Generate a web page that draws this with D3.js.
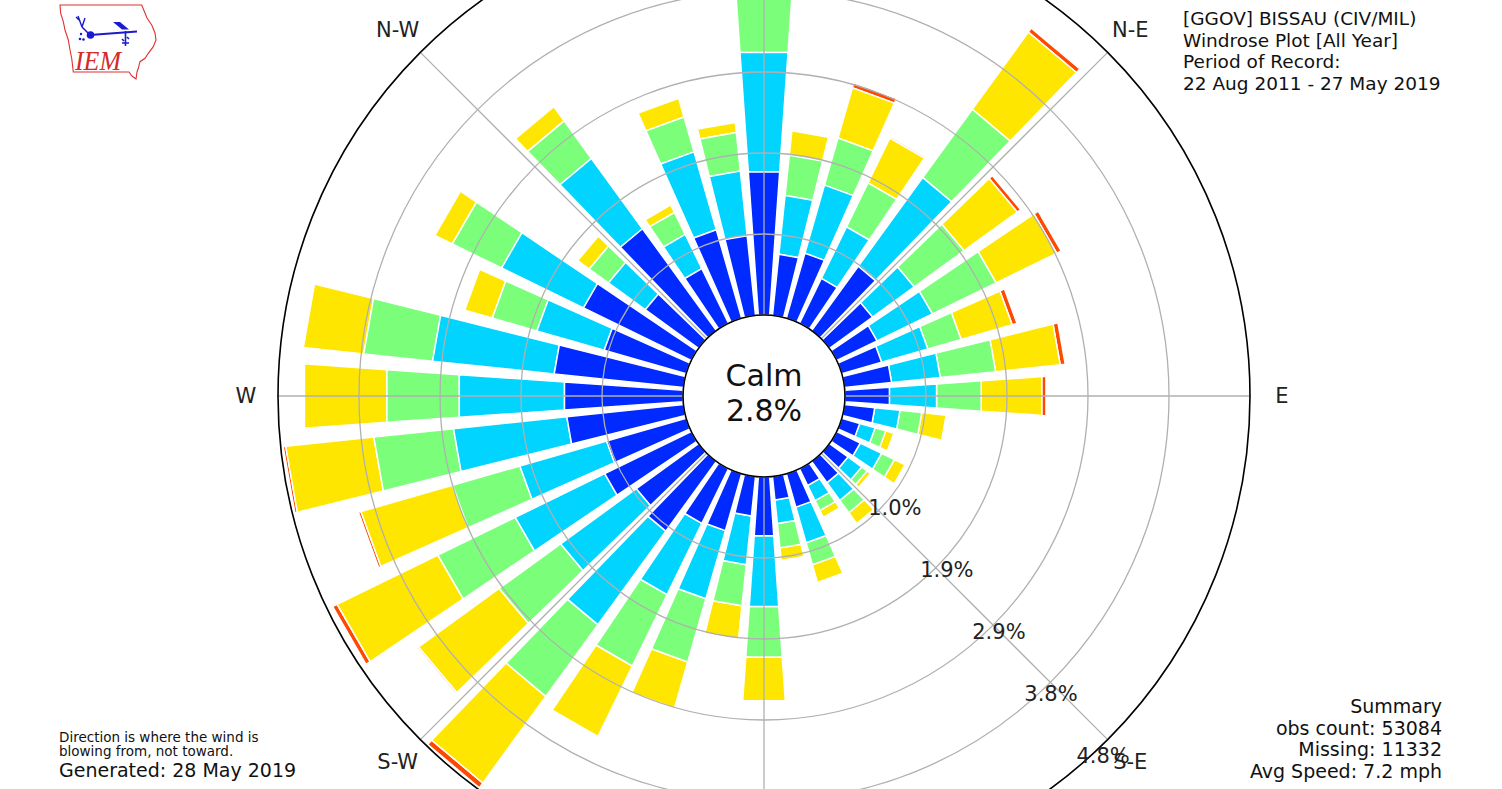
<!DOCTYPE html>
<html><head><meta charset="utf-8">
<script src="https://cdn.jsdelivr.net/npm/d3@7"></script>
<style>html,body{margin:0;padding:0;background:#fff;overflow:hidden}</style>
</head><body>
<svg id="chart" width="1502" height="789"></svg>
<script>
// ---------------- data ----------------
const directions = d3.range(0, 360, 10); // compass degrees, wind from
const binKeys = ["s1", "s2", "s3", "s4", "s5"];
const binColors = ["#002aff", "#00d4ff", "#7bff7b", "#ffe600", "#ff4800"];
// per-bin frequency (%) for each direction
const s1 = [1.70,0.73,0.80,0.59,0.94,0.63,0.53,0.49,0.56,0.53,0.36,0.22,0.31,0.27,0.31,0.22,0.41,0.28,
            0.70,0.47,0.70,0.72,1.02,0.91,1.14,0.98,1.39,1.41,1.54,1.01,1.42,0.78,1.49,0.72,1.09,0.95];
const s2 = [1.42,0.70,0.84,0.68,1.30,0.61,0.73,0.57,0.58,0.56,0.30,0.19,0.28,0.20,0.26,0.20,0.44,0.28,
            0.84,0.58,0.84,0.94,1.37,1.11,1.18,1.07,1.35,1.25,1.45,0.83,1.08,0.54,1.03,0.45,0.96,0.77];
const s3 = [0.98,0.48,0.58,0.58,1.00,0.73,0.84,0.41,0.66,0.53,0.26,0.13,0.17,0.08,0.18,0.13,0.27,0.29,
            0.60,0.49,0.78,0.94,1.05,0.90,1.02,0.83,0.95,0.86,0.82,0.55,0.65,0.28,0.55,0.29,0.43,0.46];
const s4 = [0.60,0.29,0.62,0.59,1.13,0.78,0.80,0.63,0.77,0.72,0.29,0.10,0.14,0.05,0.16,0.09,0.22,0.15,
            0.52,0.40,0.57,0.93,1.27,1.18,1.33,1.13,1.05,0.98,0.72,0.34,0.23,0.17,0.21,0.10,0.23,0.12];
const s5 = [0.07,0.00,0.06,0.02,0.06,0.05,0.06,0.06,0.06,0.05,0.00,0.00,0.00,0.00,0.00,0.00,0.00,0.00,
            0.00,0.00,0.00,0.00,0.07,0.02,0.06,0.03,0.03,0.00,0.00,0.00,0.00,0.00,0.00,0.00,0.00,0.00];
const calmText = ["Calm", "2.8%"];
const ringTicks = [0.96, 1.92, 2.88, 3.84, 4.80];
const ringLabels = ["1.0%", "1.9%", "2.9%", "3.8%", "4.8%"];
const gridAngles = [0, 45, 90, 135, 180, 225, 270, 315];
// compass labels visible in the frame (N and S fall outside the picture)
const compassAngles = [45, 90, 135, 225, 270, 315];
const compassLabels = ["N-E", "E", "S-E", "S-W", "W", "N-W"];
const titleLines = ["[GGOV] BISSAU (CIV/MIL)", "Windrose Plot [All Year]", "Period of Record:", "22 Aug 2011 - 27 May 2019"];
const summaryLines = ["Summary", "obs count: 53084", "Missing: 11332", "Avg Speed: 7.2 mph"];
const noteLines = ["Direction is where the wind is", "blowing from, not toward."];
const generatedText = "Generated: 28 May 2019";

// ---------------- layout ----------------
const svg = d3.select("#chart");
const FONT = "DejaVu Sans, Verdana, sans-serif";
const cx = 764, cy = 396;
const rMax = 4.8;
const r = d3.scaleLinear().domain([0, rMax]).range([81, 486]);
const rad = d => d * Math.PI / 180;
const pt = (deg, rr) => [cx + rr * Math.sin(rad(deg)), cy - rr * Math.cos(rad(deg))];
const opening = 8; // degrees

const rows = directions.map((d, i) => ({dir: d, s1: s1[i], s2: s2[i], s3: s3[i], s4: s4[i], s5: s5[i]}));
const series = d3.stack().keys(binKeys)(rows);

svg.append("defs").append("clipPath").attr("id", "polarClip")
  .append("circle").attr("cx", cx).attr("cy", cy).attr("r", r(rMax));

const barsG = svg.append("g").attr("clip-path", "url(#polarClip)");
// draw outermost bin first so inner bins lie on top
series.slice().reverse().forEach(s => {
  const ci = binKeys.indexOf(s.key);
  barsG.selectAll(null).data(s.filter(d => d[1] - d[0] > 0)).enter().append("path")
    .attr("d", d => {
      const a = d.data.dir;
      const r0 = r(d[0]), r1 = r(d[1]);
      const p = [pt(a - opening / 2, r0), pt(a + opening / 2, r0), pt(a + opening / 2, r1), pt(a - opening / 2, r1)];
      return "M" + p.map(q => q[0].toFixed(2) + "," + q[1].toFixed(2)).join("L") + "Z";
    })
    .attr("fill", binColors[ci])
    .attr("stroke", "#ffffff")
    .attr("stroke-width", 1.5)
    .attr("stroke-linejoin", "miter");
});

// grid
const gridG = svg.append("g");
gridG.selectAll(null).data(ringTicks.slice(0, -1)).enter().append("circle")
  .attr("cx", cx).attr("cy", cy).attr("r", d => r(d))
  .attr("fill", "none").attr("stroke", "#b0b0b0").attr("stroke-width", 1.3);
gridG.selectAll(null).data(gridAngles).enter().append("line")
  .attr("x1", d => pt(d, r(0))[0]).attr("y1", d => pt(d, r(0))[1])
  .attr("x2", d => pt(d, r(rMax))[0]).attr("y2", d => pt(d, r(rMax))[1])
  .attr("stroke", "#b0b0b0").attr("stroke-width", 1.3);
// outer spine
svg.append("circle").attr("cx", cx).attr("cy", cy).attr("r", r(rMax))
  .attr("fill", "none").attr("stroke", "#000").attr("stroke-width", 1.6);

// calm circle
svg.append("circle").attr("cx", cx).attr("cy", cy).attr("r", r(0))
  .attr("fill", "#fff").attr("stroke", "#000").attr("stroke-width", 1.6);
svg.selectAll(null).data(calmText).enter().append("text")
  .attr("x", cx).attr("y", (d, i) => 386 + i * 35)
  .attr("text-anchor", "middle").attr("font-family", FONT).attr("font-size", 30)
  .attr("fill", "#111").text(d => d);

// ring labels
svg.selectAll(null).data(ringTicks).enter().append("text")
  .attr("x", d => pt(140, r(d))[0]).attr("y", d => pt(140, r(d))[1] - 5)
  .attr("font-family", FONT).attr("font-size", 21).attr("fill", "#222")
  .text((d, i) => ringLabels[i]);

// compass labels
svg.selectAll(null).data(compassAngles).enter().append("text")
  .attr("x", d => pt(d, 518)[0]).attr("y", d => pt(d, 518)[1])
  .attr("text-anchor", "middle").attr("dominant-baseline", "central")
  .attr("font-family", FONT).attr("font-size", 21).attr("fill", "#222")
  .text((d, i) => compassLabels[i]);

// title block
svg.selectAll(null).data(titleLines).enter().append("text")
  .attr("x", 1183).attr("y", (d, i) => 25 + i * 21.7)
  .attr("font-family", FONT).attr("font-size", 18.5).attr("fill", "#111").text(d => d);
// summary block
svg.selectAll(null).data(summaryLines).enter().append("text")
  .attr("x", 1442).attr("y", (d, i) => 713 + i * 21.7).attr("text-anchor", "end")
  .attr("font-family", FONT).attr("font-size", 19).attr("fill", "#111").text(d => d);
// notes
svg.selectAll(null).data(noteLines).enter().append("text")
  .attr("x", 59).attr("y", (d, i) => 741.5 + i * 14.3)
  .attr("font-family", FONT).attr("font-size", 13.5).attr("fill", "#111").text(d => d);
svg.append("text").attr("x", 59).attr("y", 776.5)
  .attr("font-family", FONT).attr("font-size", 19).attr("fill", "#111").text(generatedText);

// IEM logo
const logo = svg.append("g");
const iowa = [[60,5],[141.7,5],[145,13],[147,18],[151.7,25],[155,33],[156,40],[153.3,46.7],[148.3,53.3],
  [145,58.3],[140,61.7],[138.3,68.3],[137,72],[136,79],[132,76],[129,72],[73.3,72],[71.7,58.3],[70,50],
  [68.3,40],[65,30],[63.3,21.7],[60.7,13.3]];
logo.append("path").attr("d", d3.line()(iowa) + "Z").attr("fill", "none")
  .attr("stroke", "#e03030").attr("stroke-width", 1.1);
const blue = "#1a1ad0";
logo.append("line").attr("x1", 90).attr("y1", 35).attr("x2", 137).attr("y2", 31.5).attr("stroke", blue).attr("stroke-width", 1.8);
logo.append("line").attr("x1", 90).attr("y1", 35).attr("x2", 82).attr("y2", 27).attr("stroke", blue).attr("stroke-width", 1.6);
logo.append("path").attr("d", "M82,27L78,16M82,27L85,18M79,20L76,17").attr("stroke", blue).attr("stroke-width", 1.4).attr("fill", "none");
logo.append("circle").attr("cx", 90.5).attr("cy", 35).attr("r", 3.8).attr("fill", blue);
logo.append("circle").attr("cx", 81).attr("cy", 34).attr("r", 1.2).attr("fill", blue);
logo.append("circle").attr("cx", 80).attr("cy", 39).attr("r", 1.3).attr("fill", blue);
logo.append("circle").attr("cx", 83.5).attr("cy", 39.5).attr("r", 1.3).attr("fill", blue);
logo.append("path").attr("d", "M113,22L120,22L129,29.5L122,29.5Z").attr("fill", blue);
logo.append("path").attr("d", "M125.5,31L125.5,46M122,43L129,43M122,39L124,41M127,37L129,39").attr("stroke", blue).attr("stroke-width", 1.6).attr("fill", "none");
logo.append("text").attr("x", 75).attr("y", 70).attr("font-family", "Liberation Serif, Times New Roman, serif")
  .attr("font-style", "italic").attr("font-size", 28).attr("fill", "#d42a2a")
  .attr("textLength", 46).attr("lengthAdjust", "spacingAndGlyphs").text("IEM");
</script>
</body></html>
